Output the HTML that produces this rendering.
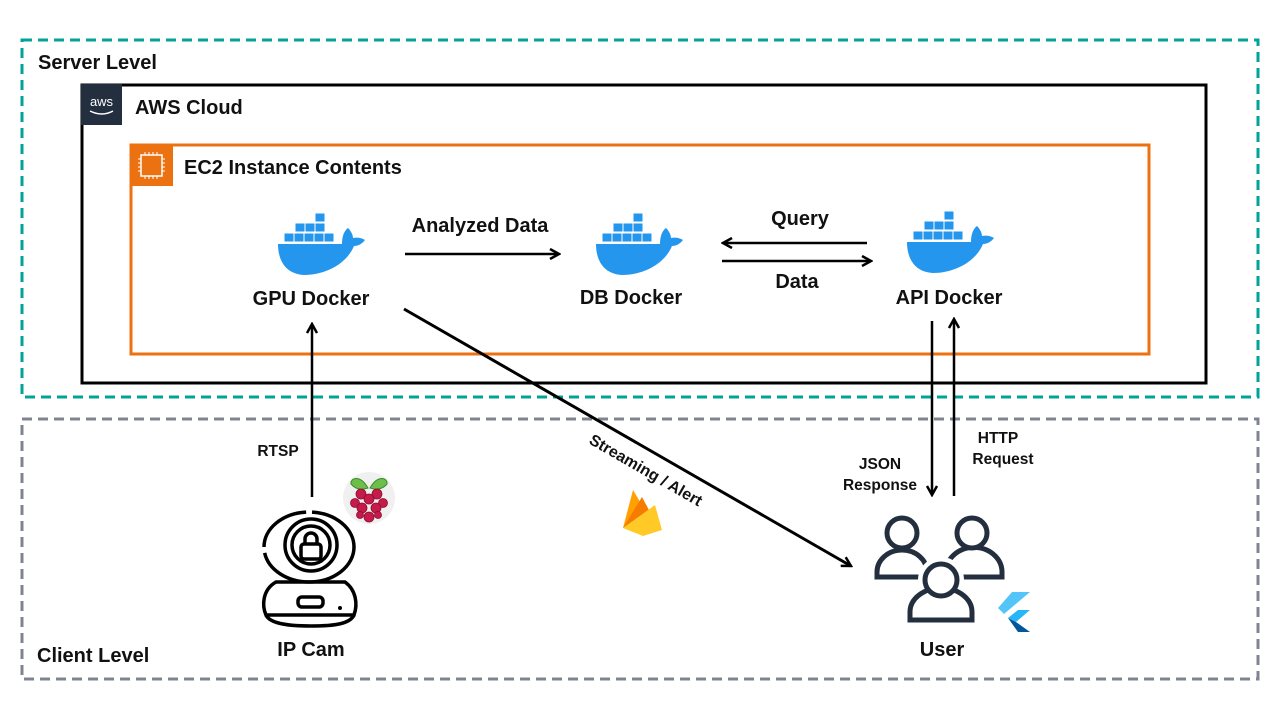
<!DOCTYPE html>
<html><head><meta charset="utf-8"><style>
html,body{margin:0;padding:0;background:#fff}
svg{display:block}
text{font-family:"Liberation Sans",Arial,sans-serif;font-weight:bold;fill:#111}
</style></head><body>
<svg width="1280" height="720" viewBox="0 0 1280 720" xmlns="http://www.w3.org/2000/svg">
<defs>
<g id="whale">
<g fill="#2496ed" stroke="#fff" stroke-width="1">
<rect x="37" y="0" width="10" height="9"/>
<rect x="17" y="10" width="10" height="9"/><rect x="27" y="10" width="10" height="9"/><rect x="37" y="10" width="10" height="9"/>
<rect x="6" y="20" width="10" height="9"/><rect x="16" y="20" width="10" height="9"/><rect x="26" y="20" width="10" height="9"/><rect x="36" y="20" width="10" height="9"/><rect x="46" y="20" width="10" height="9"/>
</g>
<path fill="#2496ed" d="M0,31 H64 C64,22 67,17 70,15 C73,18 75,22 75,25 C79,24 84,25 87,27 C84,31 80,33 76,33 C68,52 46,62 26,62 C8,61 0,48 0,31 Z"/>
</g>
<marker id="ah" viewBox="0 0 12 12" refX="10" refY="6" markerWidth="12" markerHeight="12" markerUnits="userSpaceOnUse" orient="auto">
<path d="M1,1 L10,6 L1,11" fill="none" stroke="#000" stroke-width="2.5"/>
</marker>
</defs>

<rect x="22" y="40" width="1236" height="357" fill="none" stroke="#00a29a" stroke-width="3" stroke-dasharray="10 6"/>
<text x="38" y="69" font-size="20">Server Level</text>

<rect x="22" y="419" width="1236" height="260" fill="none" stroke="#7f8491" stroke-width="3" stroke-dasharray="10 6"/>
<text x="37" y="662" font-size="20">Client Level</text>

<rect x="82" y="85" width="1124" height="298" fill="none" stroke="#000" stroke-width="3"/>
<rect x="81" y="84" width="41" height="41" fill="#232f3e"/>
<text x="101.5" y="106" font-size="13" style="fill:#fff;font-weight:normal" text-anchor="middle">aws</text>
<path d="M90,111 Q102,117 113,111" fill="none" stroke="#fff" stroke-width="1.5"/>
<text x="135" y="114" font-size="20">AWS Cloud</text>

<rect x="131" y="145" width="1018" height="209" fill="none" stroke="#ec7211" stroke-width="3"/>
<rect x="130" y="144" width="43" height="42" fill="#ec7211"/>
<rect x="141" y="155" width="21" height="21" fill="none" stroke="#fff" stroke-width="1.5"/>
<g stroke="#fff" stroke-width="1">
<path d="M145,152v3M149,152v3M153,152v3M157,152v3M145,176v3M149,176v3M153,176v3M157,176v3M138,159h3M138,163h3M138,167h3M138,171h3M162,159h3M162,163h3M162,167h3M162,171h3"/>
</g>
<text x="184" y="174" font-size="20">EC2 Instance Contents</text>

<use href="#whale" x="278" y="213"/>
<use href="#whale" x="596" y="213"/>
<use href="#whale" x="907" y="211"/>
<text x="311" y="305" font-size="20" text-anchor="middle">GPU Docker</text>
<text x="631" y="304" font-size="20" text-anchor="middle">DB Docker</text>
<text x="949" y="304" font-size="20" text-anchor="middle">API Docker</text>

<line x1="405" y1="254" x2="559" y2="254" stroke="#000" stroke-width="2.5" marker-end="url(#ah)"/>
<text x="480" y="232" font-size="20" text-anchor="middle">Analyzed Data</text>
<line x1="867" y1="243" x2="723" y2="243" stroke="#000" stroke-width="2.5" marker-end="url(#ah)"/>
<text x="800" y="225" font-size="20" text-anchor="middle">Query</text>
<line x1="722" y1="261" x2="871" y2="261" stroke="#000" stroke-width="2.5" marker-end="url(#ah)"/>
<text x="797" y="288" font-size="20" text-anchor="middle">Data</text>

<line x1="404" y1="309" x2="851" y2="566" stroke="#000" stroke-width="3" marker-end="url(#ah)"/>
<text x="0" y="0" font-size="16" transform="translate(588,443) rotate(30)">Streaming  / Alert</text>

<line x1="312" y1="497" x2="312" y2="324" stroke="#000" stroke-width="2.5" marker-end="url(#ah)"/>
<text x="278" y="456" font-size="15.5" text-anchor="middle">RTSP</text>

<line x1="932" y1="321" x2="932" y2="495" stroke="#000" stroke-width="2.5" marker-end="url(#ah)"/>
<line x1="954" y1="496" x2="954" y2="319" stroke="#000" stroke-width="2.5" marker-end="url(#ah)"/>
<text x="880" y="469" font-size="15.5" text-anchor="middle">JSON</text>
<text x="880" y="490" font-size="15.5" text-anchor="middle">Response</text>
<text x="998" y="443" font-size="15.5" text-anchor="middle">HTTP</text>
<text x="1003" y="464" font-size="15.5" text-anchor="middle">Request</text>

<!-- raspberry -->
<circle cx="369" cy="498" r="26" fill="#f0f0f0"/>
<path d="M368,488 C360,474 350,478 351,484 C356,490 362,490 368,488 Z M370,488 C378,474 388,478 387,484 C382,490 376,490 370,488 Z" fill="#6cc04a" stroke="#3c8a2a" stroke-width="1"/>
<g fill="#c51a4a" stroke="#8a0e30" stroke-width="0.8">
<circle cx="361" cy="494" r="5"/><circle cx="377" cy="494" r="5"/><circle cx="369" cy="499" r="5"/>
<circle cx="355" cy="503" r="4.5"/><circle cx="383" cy="503" r="4.5"/><circle cx="362" cy="508" r="5"/><circle cx="376" cy="508" r="5"/>
<circle cx="369" cy="517" r="5"/><circle cx="360" cy="515" r="3.5"/><circle cx="378" cy="515" r="3.5"/>
</g>

<!-- IP cam -->
<g fill="none" stroke="#000" stroke-width="3.5">
<ellipse cx="309" cy="547" rx="45" ry="35" stroke-dasharray="120 6 60 6 200"/>
<circle cx="311" cy="545" r="26"/>
<circle cx="311" cy="545" r="19"/>
<rect x="301" y="544" width="20" height="15" rx="3"/>
<path d="M305,544 v-5 a6,6 0 0 1 12,0 v5"/>
<path d="M276,582 C262,590 262,606 266,615 H354 C358,604 356,590 345,582 Z"/>
<path d="M266,615 C270,624 290,626 311,626 C334,626 350,624 354,615"/>
<rect x="298" y="597" width="25" height="10" rx="4"/>
</g>
<circle cx="340" cy="608" r="2" fill="#000"/>
<text x="311" y="656" font-size="20" text-anchor="middle">IP Cam</text>

<!-- firebase -->
<path d="M623,528 L633,490 L645,510 Z" fill="#ffa000"/>
<path d="M623,528 L642,497 L650,512 Z" fill="#f57c00"/>
<path d="M623,528 L655,505 L662,530 L643,536 Z" fill="#ffca28"/>

<!-- users -->
<g stroke="#232f3e" stroke-width="5" fill="#fff">
<path d="M877,577 V572 A25,22 0 0 1 927,572 V577 Z"/>
<circle cx="902" cy="533" r="15"/>
<path d="M946,577 V572 A25,22 0 0 1 1002,572 V577 Z"/>
<circle cx="972" cy="533" r="15"/>
</g>
<g fill="#fff" stroke="#fff" stroke-width="12">
<circle cx="941" cy="580" r="17"/>
<path d="M910,620 V612 A31,24 0 0 1 972,612 V620 Z"/>
</g>
<g stroke="#232f3e" stroke-width="5" fill="#fff">
<path d="M910,620 V612 A31,24 0 0 1 972,612 V620 Z"/>
<circle cx="941" cy="580" r="16"/>
</g>
<!-- flutter -->
<path d="M1012,592 H1030 L1004,614 L998,608 Z" fill="#54c5f8"/>
<path d="M1008,618 L1018,610 H1030 L1016,622 Z" fill="#29b6f6"/>
<path d="M1008,618 L1016,622 L1030,632 H1018 Z" fill="#01579b"/>
<text x="942" y="656" font-size="20" text-anchor="middle">User</text>
</svg>
</body></html>
